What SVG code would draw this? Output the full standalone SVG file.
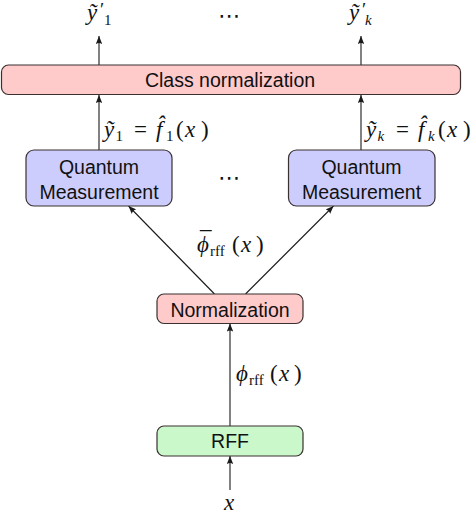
<svg xmlns="http://www.w3.org/2000/svg" width="474" height="511" viewBox="0 0 474 511">
<style>
.box{stroke:#3a3030;stroke-width:1.2}
.red{fill:#ffcaca}
.blue{fill:#cdcdfd}
.green{fill:#cbf8cb}
.lbl{font-family:"Liberation Sans",Arial,sans-serif;font-size:19.5px;fill:#111;text-anchor:middle}
.m{font-family:"Liberation Serif","DejaVu Serif",serif;font-size:23px;fill:#111}
.i{font-style:italic}
.s{font-size:15px}
.p{font-size:19px}
.dots{font-family:"DejaVu Sans",sans-serif;font-size:22px;fill:#111;text-anchor:middle}
.conn line{stroke:#1a1a1a;stroke-width:1.1;marker-end:url(#ah)}
</style>
<defs>
<marker id="ah" viewBox="0 0 10 8" refX="10" refY="4" markerWidth="8" markerHeight="6.4" markerUnits="userSpaceOnUse" orient="auto">
<path d="M0,0 L10,4 L0,8 Q2.5,4 0,0z" fill="#1a1a1a"/>
</marker>
</defs>
<rect width="474" height="511" fill="#fff"/>

<g class="conn">
<line x1="230" y1="490" x2="230" y2="456"/>
<line x1="230" y1="426" x2="230" y2="323.5"/>
<line x1="214.5" y1="294" x2="128.5" y2="206"/>
<line x1="245.5" y1="294" x2="333.5" y2="206"/>
<line x1="99" y1="150" x2="99" y2="95"/>
<line x1="361" y1="150" x2="361" y2="95"/>
<line x1="99" y1="65" x2="99" y2="36"/>
<line x1="361" y1="65" x2="361" y2="36"/>
</g>

<g id="classnorm">
<rect class="box red" x="1.5" y="65" width="459" height="29.5" rx="7"/>
<text class="lbl" x="230" y="86.5">Class normalization</text>
</g>

<g id="qm1">
<rect class="box blue" x="26" y="150" width="146" height="56" rx="8"/>
<text class="lbl" x="99" y="173.5">Quantum</text>
<text class="lbl" x="99" y="198.5">Measurement</text>
</g>

<g id="qmk">
<rect class="box blue" x="288.5" y="150" width="146.5" height="56" rx="8"/>
<text class="lbl" x="361.5" y="173.5">Quantum</text>
<text class="lbl" x="361.5" y="198.5">Measurement</text>
</g>

<g id="normalization">
<rect class="box red" x="157" y="294" width="146" height="29.5" rx="7"/>
<text class="lbl" x="230" y="316.5">Normalization</text>
</g>

<g id="rff">
<rect class="box green" x="157" y="426" width="146" height="30" rx="7"/>
<text class="lbl" x="230" y="447.5">RFF</text>
</g>

<g id="labels">
<!-- top outputs -->
<text class="m"><tspan class="i" x="87" y="20">ỹ</tspan><tspan class="p" x="100" y="16">′</tspan><tspan class="s" x="104" y="25">1</tspan></text>
<text class="m"><tspan class="i" x="349" y="20">ỹ</tspan><tspan class="p" x="362" y="16">′</tspan><tspan class="s i" x="365" y="25">k</tspan></text>
<text class="dots" x="229" y="23">⋯</text>
<text class="dots" x="229" y="185">⋯</text>

<!-- y1 = f1(x) -->
<text class="m"><tspan class="i" x="104" y="137">ỹ</tspan><tspan class="s" x="115.5" y="141">1</tspan><tspan x="134" y="137">=</tspan><tspan class="i" x="156" y="137">f̂</tspan><tspan class="s" x="166" y="141">1</tspan><tspan x="176" y="137">(</tspan><tspan class="i" x="185" y="137">x</tspan><tspan x="201" y="137">)</tspan></text>
<!-- yk = fk(x) -->
<text class="m"><tspan class="i" x="366" y="137">ỹ</tspan><tspan class="s i" x="377.5" y="141">k</tspan><tspan x="396" y="137">=</tspan><tspan class="i" x="418" y="137">f̂</tspan><tspan class="s i" x="428" y="141">k</tspan><tspan x="438" y="137">(</tspan><tspan class="i" x="447" y="137">x</tspan><tspan x="463" y="137">)</tspan></text>

<!-- phi bar rff -->
<text class="m"><tspan x="200" y="248">¯</tspan><tspan class="i" x="197" y="252">ϕ</tspan><tspan class="s" x="210" y="256">rff</tspan><tspan x="232" y="252">(</tspan><tspan class="i" x="241" y="252">x</tspan><tspan x="256" y="252">)</tspan></text>
<!-- phi rff -->
<text class="m"><tspan class="i" x="236" y="381">ϕ</tspan><tspan class="s" x="249" y="385">rff</tspan><tspan x="270" y="381">(</tspan><tspan class="i" x="279" y="381">x</tspan><tspan x="294" y="381">)</tspan></text>
<!-- x input -->
<text class="m i" x="229" y="510" text-anchor="middle">x</text>
</g>
</svg>
